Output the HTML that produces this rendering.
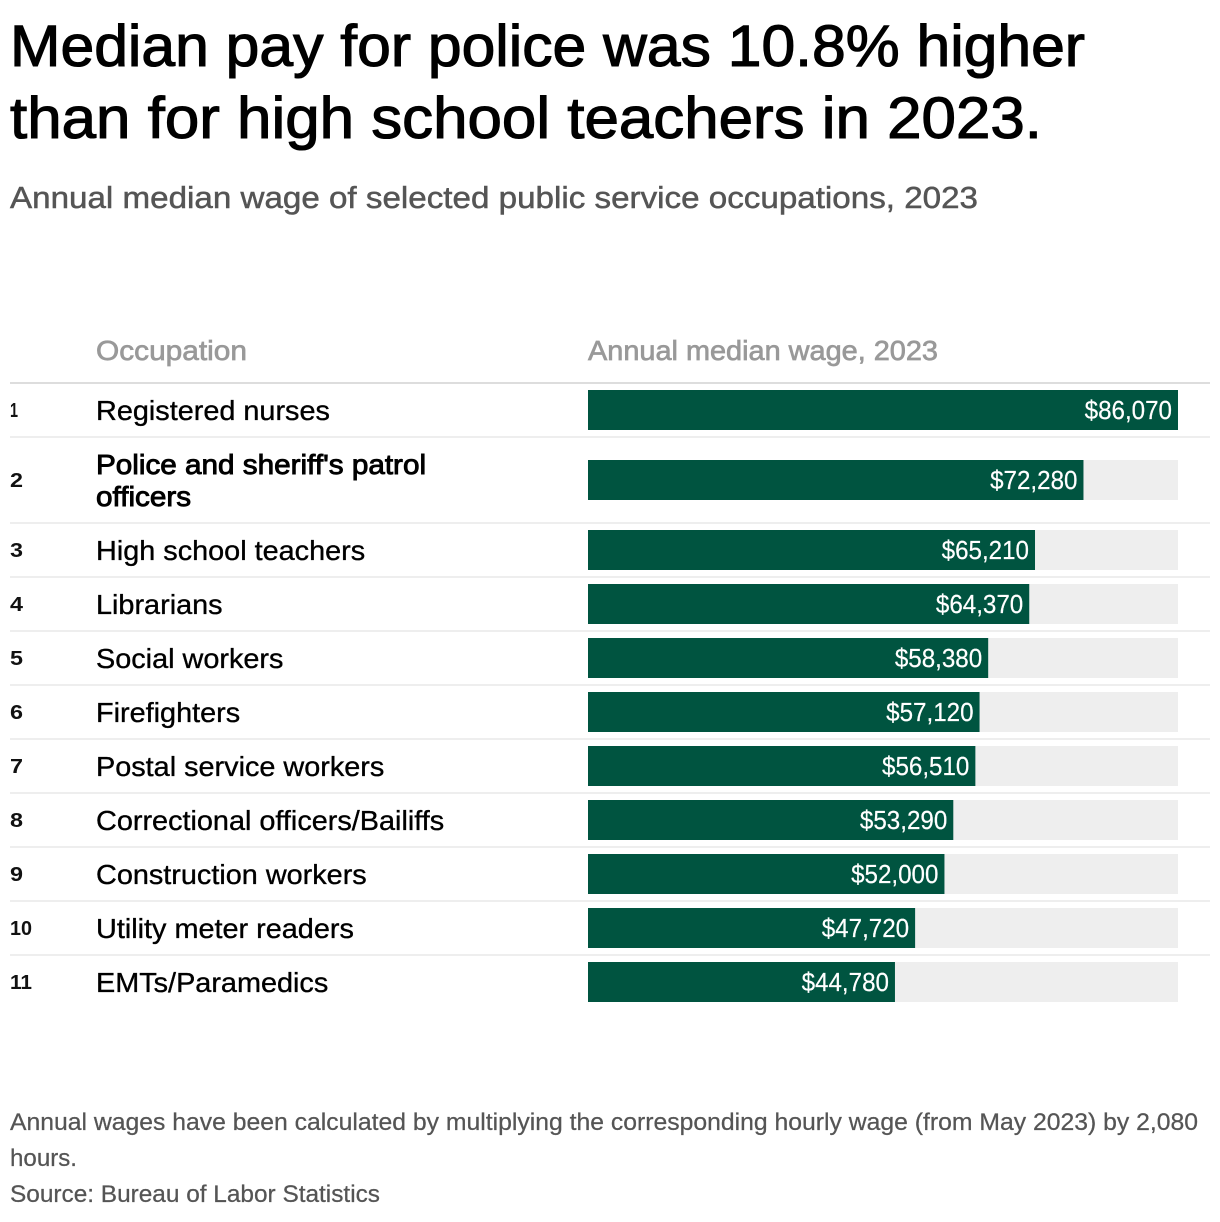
<!DOCTYPE html>
<html lang="en">
<head>
<meta charset="utf-8">
<title>Median pay for police</title>
<style>
html,body{margin:0;padding:0;background:#fff;width:1220px;height:1222px;overflow:hidden}
svg{display:block}
text{font-family:"Liberation Sans",sans-serif}
</style>
</head>
<body>
<svg id="chart" xmlns="http://www.w3.org/2000/svg" width="1220" height="1222" viewBox="0 0 1220 1222">
  <text x="10" y="66" font-size="58" fill="#000" stroke="#000" stroke-width="1.1" textLength="1075" lengthAdjust="spacingAndGlyphs">Median pay for police was 10.8% higher</text>
  <text x="10" y="138" font-size="58" fill="#000" stroke="#000" stroke-width="1.1" textLength="1032" lengthAdjust="spacingAndGlyphs">than for high school teachers in 2023.</text>
  <text x="10" y="208" font-size="31" fill="#555" stroke="#555" stroke-width="0.5" textLength="968" lengthAdjust="spacingAndGlyphs">Annual median wage of selected public service occupations, 2023</text>
  <text x="96" y="360" font-size="28" fill="#999" stroke="#999" stroke-width="0.7" textLength="151" lengthAdjust="spacingAndGlyphs">Occupation</text>
  <text x="588" y="360" font-size="28" fill="#999" stroke="#999" stroke-width="0.7" textLength="350" lengthAdjust="spacingAndGlyphs">Annual median wage, 2023</text>
  <rect x="10" y="382" width="1200" height="2" fill="#dddddd"></rect>
  <g id="rows"></g>
  <text x="10" y="1130" font-size="24" fill="#555" stroke="#555" stroke-width="0.25" textLength="1188" lengthAdjust="spacingAndGlyphs">Annual wages have been calculated by multiplying the corresponding hourly wage (from May 2023) by 2,080</text>
  <text x="10" y="1166" font-size="24" fill="#555" stroke="#555" stroke-width="0.25" textLength="67" lengthAdjust="spacingAndGlyphs">hours.</text>
  <text x="10" y="1202" font-size="24" fill="#555" stroke="#555" stroke-width="0.25" textLength="370" lengthAdjust="spacingAndGlyphs">Source: Bureau of Labor Statistics</text>
</svg>
<script>
const occupations = [
  ["Registered nurses"],
  ["Police and sheriff's patrol", "officers"],
  ["High school teachers"],
  ["Librarians"],
  ["Social workers"],
  ["Firefighters"],
  ["Postal service workers"],
  ["Correctional officers/Bailiffs"],
  ["Construction workers"],
  ["Utility meter readers"],
  ["EMTs/Paramedics"]
];
const wages = [86070, 72280, 65210, 64370, 58380, 57120, 56510, 53290, 52000, 47720, 44780];
const highlighted = ["Police and sheriff's patrol"];

const NS = "http://www.w3.org/2000/svg";
const BAR_LEFT = 588, BAR_WIDTH = 590, BAR_HEIGHT = 40;
const LINE_HEIGHT = 32, BASE_ROW = 52, RULE = 2;
const LABEL_STRETCH = 1.03, BOLD_STRETCH = 1.06, VALUE_STRETCH = 0.93;
const maxWage = Math.max.apply(null, wages);
const xScale = function (v) { return BAR_WIDTH * v / maxWage; };
const rowsRoot = document.getElementById("rows");

function svgEl(tag, attrs, parent) {
  const el = document.createElementNS(NS, tag);
  Object.keys(attrs).forEach(function (k) { el.setAttribute(k, attrs[k]); });
  parent.appendChild(el);
  return el;
}

let rowTop = 384;
wages.forEach(function (wage, i) {
  const lines = occupations[i];
  const rowH = BASE_ROW + (lines.length - 1) * LINE_HEIGHT;
  const cy = rowTop + rowH / 2;
  const bold = highlighted.indexOf(lines[0]) >= 0;

  const row = svgEl("g", {}, rowsRoot);
  
  

  const rank = svgEl("text", { x: 10, y: cy + 7, "font-size": 20, "font-weight": "bold", fill: "#111",
    textLength: String(i + 1).length > 1 ? 22 : (i === 0 ? 8 : 13), lengthAdjust: "spacingAndGlyphs" }, row);
  
  
  rank.textContent = String(i + 1);

  lines.forEach(function (line, j) {
    const y = cy + 10 - (lines.length - 1) * LINE_HEIGHT / 2 + j * LINE_HEIGHT;
    const stretch = bold ? BOLD_STRETCH : LABEL_STRETCH;
    const label = svgEl("text", { transform: "translate(96," + y + ") scale(" + stretch + ",1)",
      "font-size": 28, fill: "#000", stroke: "#000", "stroke-width": bold ? 0.9 : 0.35 }, row);
    
    
    label.textContent = line;
  });

  const barY = cy - BAR_HEIGHT / 2;
  const track = svgEl("rect", { x: BAR_LEFT, y: barY, width: BAR_WIDTH, height: BAR_HEIGHT, fill: "#eeeeee" }, row);
  
  

  const w = xScale(wage);
  const bar = svgEl("rect", { x: BAR_LEFT, y: barY, width: w, height: BAR_HEIGHT, fill: "#005440" }, row);
  
  

  const value = svgEl("text", { transform: "translate(" + (BAR_LEFT + w - 6) + "," + (cy + 9) + ") scale(" + VALUE_STRETCH + ",1)",
    "font-size": 26, fill: "#fff", stroke: "#fff", "stroke-width": 0.2, "text-anchor": "end" }, row);
  
  
  value.textContent = "$" + wage.toLocaleString("en-US");

  if (i < wages.length - 1) {
    const ruleEl = svgEl("rect", { x: 10, y: rowTop + rowH, width: 1200, height: RULE, fill: "#eeeeee" }, row);
    
    
  }

  rowTop += rowH + RULE;
});
</script>
</body>
</html>
